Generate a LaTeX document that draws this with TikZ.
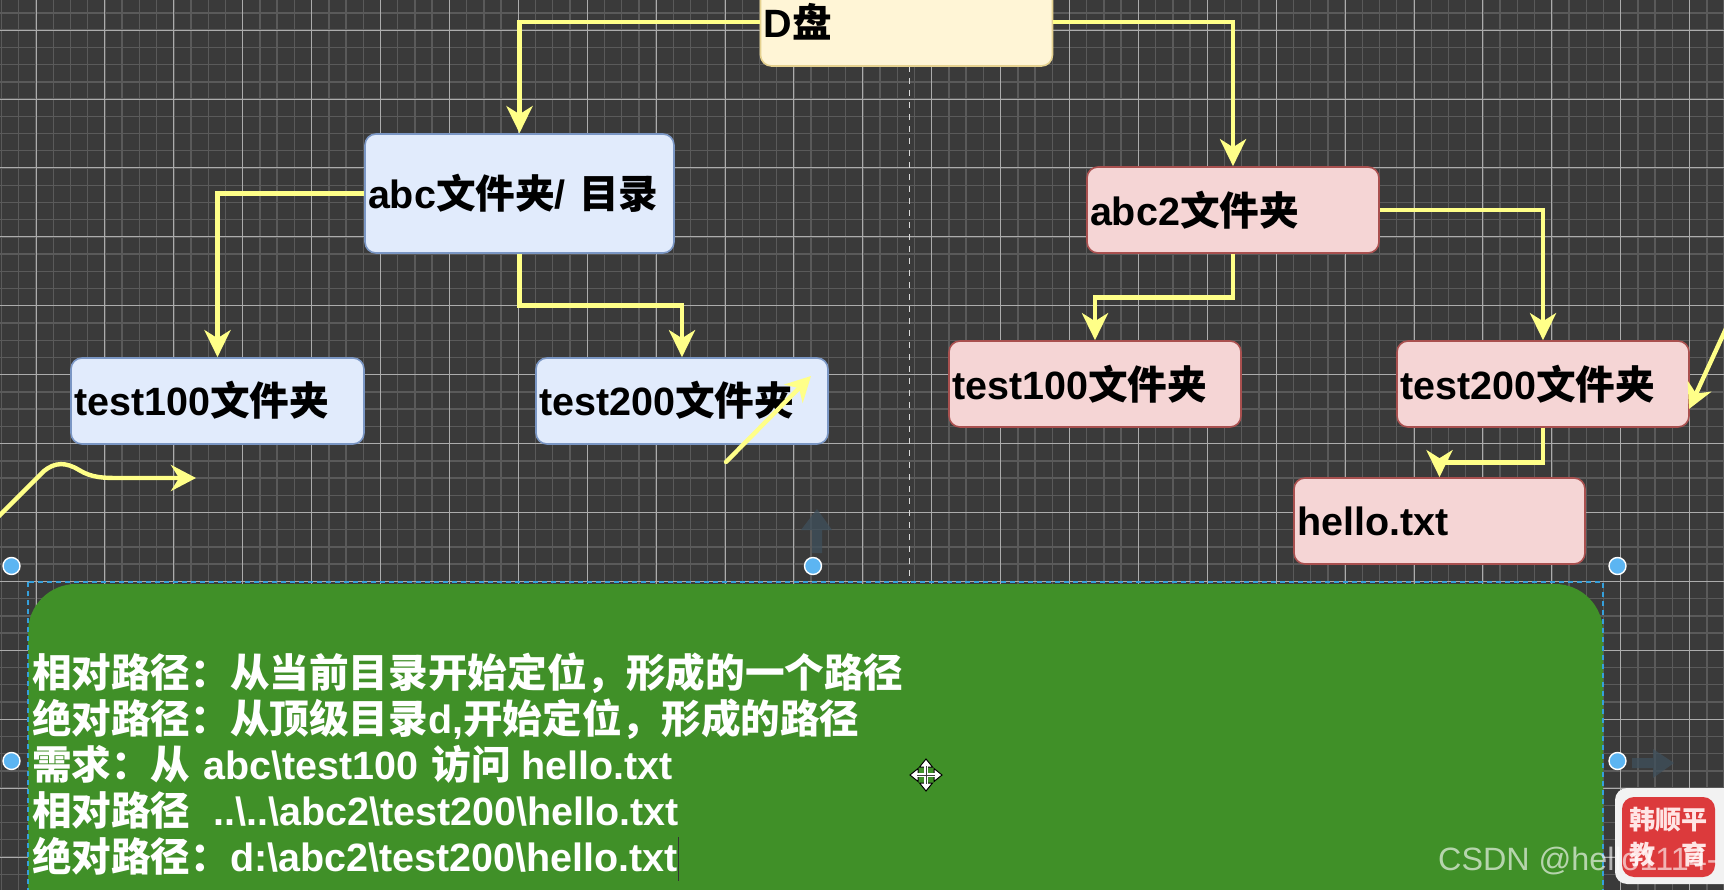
\documentclass[tikz,border=0pt]{standalone}
\usepackage{fontspec}
\setmainfont{Liberation Sans}
\newfontfamily\cjk[Scale=1.003]{Noto Sans CJK SC}
\usetikzlibrary{arrows.meta}
\newcommand{\zh}[1]{{\cjk\bfseries #1}}
\newcommand{\bsl}{\textbackslash}
\definecolor{bgdark}{HTML}{3A3A3A}
\definecolor{gridminor}{HTML}{5A5A5A}
\definecolor{gridmajor}{HTML}{ACACAC}
\definecolor{arrowyellow}{HTML}{FFFF88}
\definecolor{bluefill}{HTML}{E1EBFC}
\definecolor{bluestroke}{HTML}{7A96C4}
\definecolor{pinkfill}{HTML}{F5D5D5}
\definecolor{pinkstroke}{HTML}{A9504F}
\definecolor{creamfill}{HTML}{FFF5D6}
\definecolor{creamstroke}{HTML}{E5D18F}
\definecolor{panelgreen}{HTML}{409028}
\definecolor{handleblue}{HTML}{5CB5F2}
\definecolor{selblue}{HTML}{35A0DC}
\definecolor{ghost}{HTML}{3F505C}
\definecolor{logored}{HTML}{DC3A3C}
\tikzset{
  basebox/.style={draw,line width=1.6pt,rounded corners=11pt,inner sep=3pt,align=left,
    font=\fontsize{39.5}{46}\selectfont\bfseries,text=black},
  bluebox/.style={basebox,fill=bluefill,draw=bluestroke},
  pinkbox/.style={basebox,fill=pinkfill,draw=pinkstroke},
  creambox/.style={basebox,fill=creamfill,draw=creamstroke},
  link/.style={draw=arrowyellow,line width=4.8pt,-{Stealth[length=27pt,width=26pt,inset=8pt]}},
  freehand/.style={draw=arrowyellow,line width=4.4pt,line cap=round,-{Stealth[length=25pt,width=26pt,inset=8pt]}},
  handle/.style={circle,fill=handleblue,draw=white,line width=1.4pt,minimum size=17pt,inner sep=0pt},
  minorline/.style={draw=gridminor,line width=1.4pt},
  majorline/.style={draw=gridmajor,line width=1pt},
}
\begin{document}
\begin{tikzpicture}[x=1pt,y=-1pt]
\useasboundingbox (0,0) rectangle (1724,890);
\clip (0,0) rectangle (1724,890);
\fill[bgdark] (0,0) rectangle (1724,890);
% grid
\foreach \i in {0,...,100}{
  \pgfmathsetmacro{\gx}{1.55+17.225*\i}
  \draw[minorline] (\gx,0) -- (\gx,890);
}
\foreach \i in {0,...,52}{
  \pgfmathsetmacro{\gy}{12.975+17.225*\i}
  \draw[minorline] (0,\gy) -- (1724,\gy);
}
\foreach \i in {0,...,25}{
  \pgfmathsetmacro{\gx}{36+68.9*\i}
  \draw[majorline] (\gx,0) -- (\gx,890);
}
\foreach \i in {0,...,12}{
  \pgfmathsetmacro{\gy}{30.2+68.9*\i}
  \draw[majorline] (0,\gy) -- (1724,\gy);
}
% guide
\coordinate (guideA) at (909.5,66);
\coordinate (guideB) at (909.5,583);
\draw[white!85!black,line width=1.4pt,dash pattern=on 6pt off 6pt] (guideA) -- (guideB);
% green panel
\node[draw=none,fill=panelgreen,rounded corners=48pt,minimum width=1575pt,minimum height=360pt,
      text width=1567pt,inner sep=4pt,align=left,text=white,
      font=\fontsize{39.5}{46}\selectfont\bfseries] (info) at (815.5,764) {%
\zh{相对路径：从当前目录开始定位，形成的一个路径}\\
\zh{绝对路径：从顶级目录}d,\zh{开始定位，形成的路径}\\
\zh{需求：从} abc\bsl test100 \zh{访问}\hspace{-3pt} hello.txt\\
\zh{相对路径}\hspace{23pt}..\bsl..\bsl abc2\bsl test200\bsl hello.txt\\
\zh{绝对路径：}d:\bsl abc2\bsl test200\bsl hello.txt};
% selection frame
\draw[selblue,line width=1.3pt,dash pattern=on 5pt off 4pt] (28,582) rectangle (1603,900);
% boxes
\node[creambox,text width=286pt,minimum height=88pt] (D) at (906.5,22) {D\zh{盘}};
\node[bluebox,text width=303pt,minimum height=119pt] (abc) at (519.5,193.5) {abc\zh{文件夹}/ \zh{目录}};
\node[bluebox,text width=287pt,minimum height=86pt] (ta) at (217.5,401) {\raisebox{5pt}{test100\zh{文件夹}}};
\node[bluebox,text width=286pt,minimum height=86pt] (tb) at (682,401) {\raisebox{5pt}{test200\zh{文件夹}}};
\node[pinkbox,text width=286pt,minimum height=86pt] (abcb) at (1233,210) {abc2\zh{文件夹}};
\node[pinkbox,text width=286pt,minimum height=86pt] (tc) at (1095,384) {\raisebox{3pt}{test100\zh{文件夹}}};
\node[pinkbox,text width=286pt,minimum height=86pt] (td) at (1543,384) {\raisebox{3pt}{test200\zh{文件夹}}};
\node[pinkbox,text width=285pt,minimum height=86pt] (hello) at (1439.5,521) {hello.txt};
% connectors
\draw[link] (D.west) -| (abc.north);
\draw[link] (D.east) -| (abcb.north);
\draw[link] (abc.west) -| (ta.north);
\draw[link] (abc.south) -- ++(0,52) -| (tb.north);
\draw[link] (abcb.south) -- ++(0,44) -| (tc.north);
\draw[link] (abcb.east) -| (td.north);
\draw[link] (td.south) -- ++(0,35) -| (hello.north);
% free arrows
\coordinate (fa) at (-3,518);
\coordinate (fb) at (196,478);
\draw[freehand] (fa) -- (44,471) .. controls (55,462) and (66,462) .. (79,470) .. controls (92,478) and (104,478) .. (120,478) -- (fb);
\coordinate (fc) at (726,462);
\coordinate (fd) at (811,376);
\draw[freehand] (fc) -- (fd);
\coordinate (fe) at (1735,309);
\coordinate (ff) at (1689,409);
\draw[freehand] (fe) -- (ff);
% handles
\node[handle] (h1) at (11.5,566) {};
\node[handle] (h2) at (813,566) {};
\node[handle] (h3) at (1617.5,566) {};
\node[handle] (h4) at (11.5,761) {};
\node[handle] (h5) at (1617.5,761) {};
% ghost arrows
\fill[ghost,opacity=.75] (812,553) -- (822,553) -- (822,530) -- (832,530) -- (817,509) -- (801,530) -- (812,530) -- cycle;
\fill[ghost,opacity=.75] (1632,758) -- (1653,758) -- (1653,749) -- (1674,763) -- (1653,778) -- (1653,768) -- (1632,768) -- cycle;
% move cursor
\begin{scope}[shift={(926,775)}]
  \foreach \r in {0,90,180,270}{
    \filldraw[rotate=\r,fill=white,draw=black,line width=1pt] (0,-16) -- (6.5,-8) -- (-6.5,-8) -- cycle;
  }
  \draw[white,line width=3.4pt] (-9,0) -- (9,0) (0,-9) -- (0,9);
  \draw[black!75,line width=.9pt] (-9,0) -- (9,0) (0,-9) -- (0,9);
\end{scope}
% text caret
\coordinate (ca) at (678.6,837);
\coordinate (cb) at (678.6,881);
\draw[black!80,line width=1pt] (ca) -- (cb);
% logo
\fill[white!95!black,rounded corners=12pt] (1615,788) rectangle (1760,884);
\node[fill=logored,rounded corners=12pt,minimum width=93pt,minimum height=80pt,inner sep=0pt,
      align=center,text=white!90!red,font=\fontsize{26}{34}\selectfont\cjk\bfseries] (logo) at (1668.5,837)
      {韩顺平\\[1pt]教　育};
% watermark
\node[anchor=base west,inner sep=0pt,text=white,text opacity=.62,font=\fontsize{32.3}{36}\selectfont] (mark) at (1438,870) {CSDN @hello1114-};
\end{tikzpicture}
\end{document}
